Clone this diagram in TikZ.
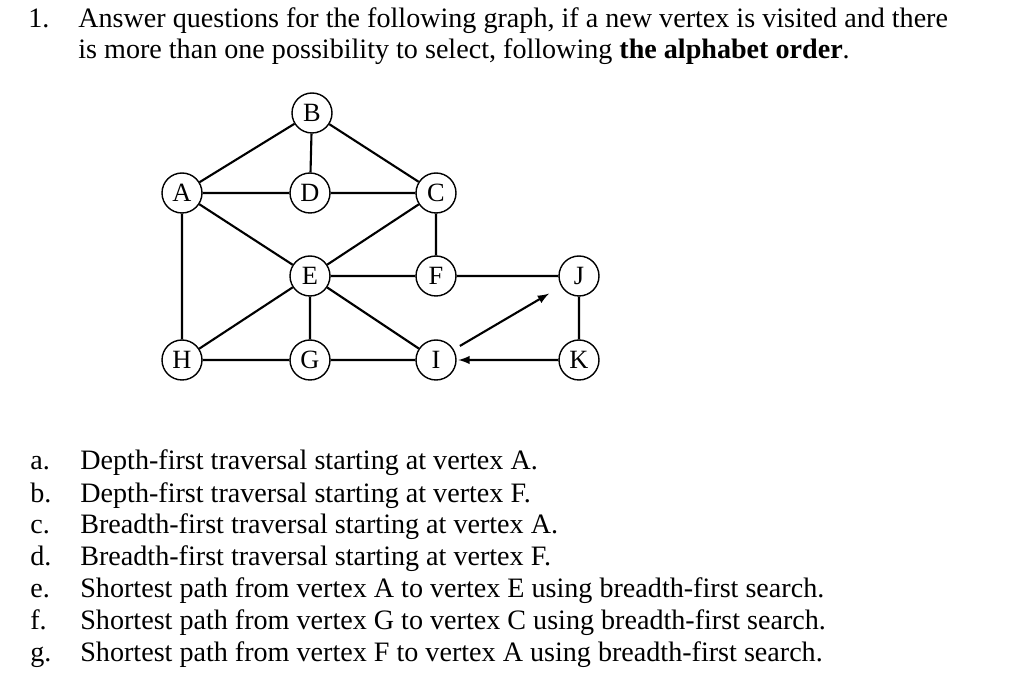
\documentclass[tikz,border=0pt]{standalone}
\usepackage{fontspec}
\setmainfont{Liberation Serif}
\newcommand{\vtxsize}{0.8cm}
\newcommand{\vn}{\node[circle, draw, thick, minimum size=\vtxsize, inner sep=0pt, font=\fontsize{15}{15}\selectfont]}
\newcommand{\tn}{\node[anchor=base west, inner sep=0pt, font=\fontsize{16}{18}\selectfont]}
\tikzset{edge/.style={-latex, line width=1.2pt, shorten >=1pt}}

\begin{document}
\begin{tikzpicture}[x=0.02cm, y=-0.02cm]
            \useasboundingbox (0,0) rectangle (1024,695);

            \vn (A) at (182,193) {A};
            \vn (B) at (312,113) {B};
            \vn (D) at (310,193) {D};
            \vn (C) at (436,193) {C};
            \vn (E) at (310,276) {E};
            \vn (F) at (436,276) {F};
            \vn (J) at (579,276) {J};
            \vn (H) at (182,360) {H};
            \vn (G) at (310,360) {G};
            \vn (I) at (436,360) {I};
            \vn (K) at (579,360) {K};

            \draw[edge]
                (A) -- (B)
                (A) -- (D)
                (D) -- (B)
                (D) -- (C)
                (B) -- (C)
                (C) -- (F)
                (E) -- (F)
                (E) -- (G)
                (E) -- (I)
                (F) -- (J)
                (J) -- (K)
                (H) -- (A)
                (H) -- (E)
                (G) -- (H)
                (G) -- (I)
                (K) -- (I)
                ;

            \draw[edge, shorten >=8pt, shorten <=4pt]
                (C) -- (E)
                (E) -- (A)
                (I) -- (J)
                ;

            \tn (t1) at (28,28) {1.};
            \tn (q1) at (78,28) {Answer questions for the following graph, if a new vertex is visited and there};
            \tn (q2) at (78,59) {is more than one possibility to select, following \textbf{the alphabet order}.};

            \tn (la) at (30,470) {a.};
            \tn (lb) at (30,502) {b.};
            \tn (lc) at (30,533) {c.};
            \tn (ld) at (30,565) {d.};
            \tn (le) at (30,597) {e.};
            \tn (lf) at (30,629) {f.};
            \tn (lg) at (30,661) {g.};
            \tn (ta) at (80,470) {Depth-first traversal starting at vertex A.};
            \tn (tb) at (80,502) {Depth-first traversal starting at vertex F.};
            \tn (tc) at (80,533) {Breadth-first traversal starting at vertex A.};
            \tn (td) at (80,565) {Breadth-first traversal starting at vertex F.};
            \tn (te) at (80,597) {Shortest path from vertex A to vertex E using breadth-first search.};
            \tn (tf) at (80,629) {Shortest path from vertex G to vertex C using breadth-first search.};
            \tn (tg) at (80,661) {Shortest path from vertex F to vertex A using breadth-first search.};

        \end{tikzpicture}
\end{document}
